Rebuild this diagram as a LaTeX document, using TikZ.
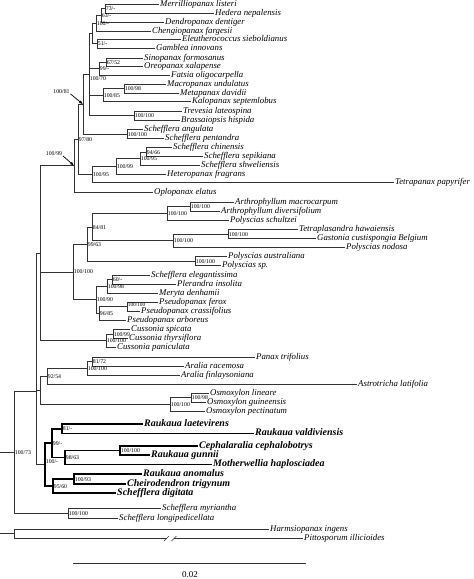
\documentclass[tikz,border=0pt]{standalone}
\usepackage{fontspec}
\setmainfont{Liberation Serif}
\usetikzlibrary{arrows.meta}

\tikzset{
  branch/.style={draw=black!80, line width=0.55pt},
  boldbranch/.style={draw=black, line width=1.8pt},
  taxon/.style={anchor=west, inner sep=1pt, text height=6.2pt, text depth=2pt,
    font=\fontsize{8.8}{10}\selectfont\itshape},
  boldtaxon/.style={anchor=west, inner sep=1pt, text height=7pt, text depth=2.2pt,
    font=\fontsize{10}{11}\selectfont\bfseries\itshape},
  support/.style={anchor=west, inner sep=0.7pt, text height=4pt, text depth=0pt,
    font=\fontsize{5.8}{6}\selectfont},
}

\begin{document}
\begin{tikzpicture}[x=1pt, y=-1pt]
    \useasboundingbox (0,0) rectangle (474,579);

    % Taxa (tips)
    \foreach \n/\x/\y/\t in {
        t1/159/4.5/Merrilliopanax listeri, t2/214/13/Hedera nepalensis,
        t3/164/22/Dendropanax dentiger, t4/151/31/Chengiopanax fargesii,
        t5/181/39.5/Eleutherococcus sieboldianus, t6/155/48/Gamblea innovans,
        t7/143/58/Sinopanax formosanus, t8/143/66.5/Oreopanax xalapense,
        t9/170/75/Fatsia oligocarpella, t10/166/84/Macropanax undulatus,
        t11/179/93/Metapanax davidii, t12/191/101.5/Kalopanax septemlobus,
        t13/182/111/Trevesia lateospina, t14/180/120/Brassaiopsis hispida,
        t15/143/129.5/Schefflera angulata, t16/164/138.5/Schefflera pentandra,
        t17/172/147.5/Schefflera chinensis, t18/203/156.5/Schefflera sepikiana,
        t19/200/165.5/Schefflera shweliensis, t20/166/174.5/Heteropanax fragrans,
        t21/394/182/Tetrapanax papyrifer, t22/153/192/Oplopanax elatus,
        t23/234/202/Arthrophyllum macrocarpum, t24/220/211/Arthrophyllum diversifolium,
        t25/229/220/Polyscias schultzei, t26/298/229.5/Tetraplasandra hawaiensis,
        t27/316/238.5/Gastonia custispongia Belgium, t28/345/247.5/Polyscias nodosa,
        t29/227/256.5/Polyscias australiana, t30/221/265.5/Polyscias sp.,
        t31/150/275/Schefflera elegantissima, t32/176/284/Plerandra insolita,
        t33/158/293/Meryta denhamii, t34/158/302/Pseudopanax ferox,
        t35/140/311/Pseudopanax crassifolius, t36/126/320/Pseudopanax arboreus,
        t37/130/329.5/Cussonia spicata, t38/128/338.5/Cussonia thyrsiflora,
        t39/116/347.5/Cussonia paniculata, t40/255/357/Panax trifolius,
        t41/184/366/Aralia racemosa, t42/180/375/Aralia finlaysoniana,
        t43/357/384/Astrotricha latifolia, t44/209/393/Osmoxylon lineare,
        t45/206/402/Osmoxylon guineensis, t46/205/411/Osmoxylon pectinatum,
        t55/161/508/Schefflera myriantha, t56/118/518/Schefflera longipedicellata,
        t57/269/529/Harmsiopanax ingens, t58/303/538.5/Pittosporum illicioides} {
        \node[taxon] (\n) at (\x,\y) {\t};
    }
    \foreach \n/\x/\y/\t in {
        t47/143/424/Raukaua laetevirens, t48/254/433.5/Raukaua valdiviensis,
        t49/198/446/Cephalaralia cephalobotrys, t50/150/455/Raukaua gunnii,
        t51/212/464.5/Motherwellia haplosciadea, t52/142/474/Raukaua anomalus,
        t53/126/484/Cheirodendron trigynum, t54/116/493/Schefflera digitata} {
        \node[boldtaxon] (\n) at (\x,\y) {\t};
    }

    % Internal nodes
    \foreach \c/\x/\y in {
        n73/105/8.75, n63/101/15.4, nA/96/23.2, n51/97/43.75, nM/92/33.5,
        n67/106/62.25, n99/99/68.6, n98/124/88.5, n85/103/95, nTr/134/115.5,
        n70/89/74.5, nAng/127/134, n81/83/104.25, n94/146/152, n95b/140/158.75,
        n99c/116/166.6, n95/92/174.3, n97/78/139.3, nC/74/165.6,
        nAr1/190/206.5, nAr2/167/213.25, nTe1/228/234, nTe2/173/240.75,
        n84/92/227, nPa/195/261, n63b/87/244, n60/112/279.5, n98b/107/286.25,
        nPf/127/306.5, n96/99/313.25, n90/96/299.75, nPo/73/271.9,
        nCu1/113/334, nCu2/106/340.75, nD/40/253.2,
        n72/92/361.5, nAl/87/368.25, n54/47/376.1, nOs1/191/397.5,
        nOs2/170/404.25, nE/40/390.2,
        n81b/62/428.75, nCe/120/450.5, n63c/65/457.5, n99b/52/443.1,
        n93/74/479, n60b/53/486, n100b/45/464.5,
        nF/36/391, nMy/68/513, n73b/14/452, nRoot2/14/533.75, root/-1/492.9} {
        \coordinate (\c) at (\x,\y);
    }

    % Branches
    \foreach \p/\c in {
        n73/t1, n73/t2, n63/n73, n63/t3, nA/n63, nA/t4, n51/t5, n51/t6,
        nM/nA, nM/n51, n67/t7, n67/t8, n99/n67, n99/t9, n98/t10, n98/t11,
        n85/n98, n85/t12, nTr/t13, nTr/t14, n70/nM, n70/n99, n70/n85, n70/nTr,
        nAng/t15, nAng/t16, n81/n70, n81/nAng, n94/t17, n94/t18, n95b/n94,
        n95b/t19, n99c/n95b, n99c/t20, n95/n99c, n95/t21, n97/n81, n97/n95,
        nC/n97, nC/t22,
        nAr1/t23, nAr1/t24, nAr2/nAr1, nAr2/t25, nTe1/t26, nTe1/t27,
        nTe2/nTe1, nTe2/t28, n84/nAr2, n84/nTe2, nPa/t29, nPa/t30,
        n63b/n84, n63b/nPa, n60/t31, n60/t32, n98b/n60, n98b/t33,
        nPf/t34, nPf/t35, n96/nPf, n96/t36, n90/n98b, n90/n96,
        nPo/n63b, nPo/n90, nCu1/t37, nCu1/t38, nCu2/nCu1, nCu2/t39,
        nD/nC, nD/nPo, nD/nCu2,
        n72/t40, n72/t41, nAl/n72, nAl/t42, n54/nAl, n54/t43,
        nOs1/t44, nOs1/t45, nOs2/nOs1, nOs2/t46, nE/n54, nE/nOs2,
        nF/nD, nF/nE, nF/n100b, nMy/t55, nMy/t56, n73b/nF, n73b/nMy,
        nRoot2/t57, root/n73b, root/nRoot2} {
        \draw[branch] (\p) |- (\c);
    }
    \foreach \p/\c in {
        n81b/t47, n81b/t48, nCe/t49, nCe/t50, n63c/nCe, n63c/t51,
        n99b/n81b, n99b/n63c, n93/t52, n93/t53, n60b/n93, n60b/t54,
        n100b/n99b, n100b/n60b} {
        \draw[boldbranch] (\p) |- (\c);
    }

    % Broken branch to the outgroup
    \coordinate (brk1) at (166.5,538.5);
    \coordinate (brk2) at (174,538.5);
    \draw[branch] (nRoot2) |- (brk1);
    \draw[branch] (brk2) -- (t58);
    \draw[branch] ([shift={(-2.5,2.5)}]brk1) -- ([shift={(2.5,-2.5)}]brk1);
    \draw[branch] ([shift={(-2.5,2.5)}]brk2) -- ([shift={(2.5,-2.5)}]brk2);

    % Support values
    \foreach \c/\s in {
        n73/{73/-}, n63/{63/-}, nA/{100/-}, n51/{51/-}, n67/{67/52}, n99/{99/-},
        n98/{100/98}, n85/{100/85}, nTr/{100/100}, nAng/{100/100}, n97/{97/80},
        n94/{94/66}, n95b/{100/95}, n99c/{100/99}, n95/{100/95},
        nAr1/{100/100}, nAr2/{100/100}, nTe1/{100/100}, nTe2/{100/100},
        n84/{84/81}, nPa/{100/100}, n63b/{99/63}, n60/{60/-}, n98b/{100/98},
        n96/{96/85}, n90/{100/90}, nPo/{100/100},
        nCu1/{100/99}, nCu2/{100/100}, n72/{81/72}, nAl/{100/100}, n54/{92/54},
        nOs1/{100/98}, nOs2/{100/100}, n81b/{81/-}, nCe/{100/100},
        n63c/{98/63}, n99b/{99/-}, n93/{100/93}, n60b/{95/60},
        n73b/{100/73}, nMy/{100/100}} {
        \node[support] (s\c) at (\c) {\s};
    }
    \node[support, yshift=-4pt] (sn70) at (n70) {100/70};
    \node[support, yshift=3pt] (sn100b) at (n100b) {100/-};
    \node[support, yshift=2.2pt, font=\fontsize{5.3}{6}\selectfont] (snPf) at (nPf) {100/100};

    % Arrowed support values
    \node[support, anchor=center] (l81) at (61.5,91) {100/81};
    \node[support, anchor=center] (l99) at (54,153) {100/99};
    \draw[-{Latex[length=4pt,width=3pt]}, line width=0.7pt] (l81.south east) -- (n81);
    \draw[-{Latex[length=4pt,width=3pt]}, line width=0.7pt] (l99.south east) -- (nC);

    % Scale bar
    \coordinate (sb1) at (73,563);
    \coordinate (sb2) at (306,563);
    \draw[branch] (sb1) -- (sb2);
    \node[font=\fontsize{9}{10}\selectfont] (sblabel) at (190,575) {0.02};
\end{tikzpicture}
\end{document}
